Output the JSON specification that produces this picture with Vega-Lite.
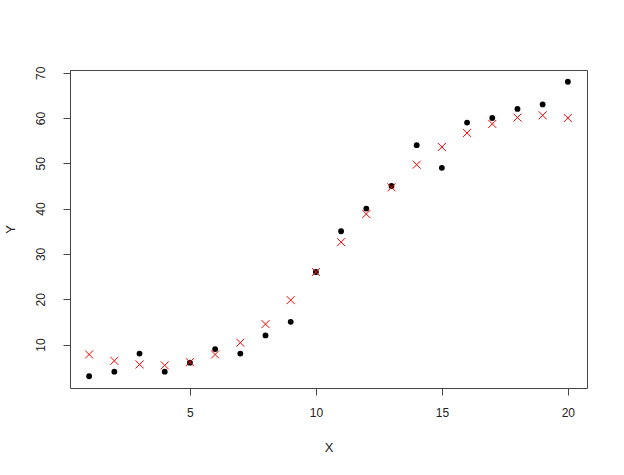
{
  "$schema": "https://vega.github.io/schema/vega-lite/v6.json",
  "autosize": "none",
  "width": 517,
  "height": 318,
  "padding": {"left": 70, "top": 70, "right": 37, "bottom": 87},
  "background": "white",
  "config": {
    "view": {"stroke": "#444", "strokeWidth": 1},
    "font": "Liberation Sans",
    "axis": {
      "grid": false,
      "domain": false,
      "tickColor": "#444",
      "tickSize": 7,
      "labelFont": "Liberation Sans",
      "labelFontSize": 12,
      "labelColor": "#222",
      "titleFont": "Liberation Sans",
      "titleFontSize": 13,
      "titleFontWeight": "normal",
      "titleColor": "#222"
    }
  },
  "data": {
    "values": [
      {"x": 1, "y": 3, "fit": 7.8},
      {"x": 2, "y": 4, "fit": 6.4},
      {"x": 3, "y": 8, "fit": 5.6},
      {"x": 4, "y": 4, "fit": 5.4},
      {"x": 5, "y": 6, "fit": 6.1},
      {"x": 6, "y": 9, "fit": 7.8},
      {"x": 7, "y": 8, "fit": 10.4},
      {"x": 8, "y": 12, "fit": 14.5},
      {"x": 9, "y": 15, "fit": 19.8},
      {"x": 10, "y": 26, "fit": 26.0},
      {"x": 11, "y": 35, "fit": 32.6},
      {"x": 12, "y": 40, "fit": 38.8},
      {"x": 13, "y": 45, "fit": 44.7},
      {"x": 14, "y": 54, "fit": 49.7},
      {"x": 15, "y": 49, "fit": 53.6},
      {"x": 16, "y": 59, "fit": 56.7},
      {"x": 17, "y": 60, "fit": 58.7},
      {"x": 18, "y": 62, "fit": 60.1},
      {"x": 19, "y": 63, "fit": 60.6},
      {"x": 20, "y": 68, "fit": 60.0}
    ]
  },
  "encoding": {
    "x": {
      "field": "x",
      "type": "quantitative",
      "title": "X",
      "scale": {"domain": [0.24, 20.76], "nice": false, "zero": false},
      "axis": {"values": [5, 10, 15, 20], "labelPadding": 12, "titlePadding": 23}
    }
  },
  "layer": [
    {
      "mark": {"type": "point", "shape": "circle", "filled": true, "color": "black", "size": 34, "opacity": 1},
      "encoding": {
        "y": {
          "field": "y",
          "type": "quantitative",
          "title": "Y",
          "scale": {"domain": [0.4, 70.6], "nice": false, "zero": false},
          "axis": {
            "values": [10, 20, 30, 40, 50, 60, 70],
            "labelAngle": 270,
            "labelAlign": "center",
            "labelBaseline": "bottom",
            "labelPadding": 16,
            "titlePadding": 17
          }
        }
      }
    },
    {
      "mark": {"type": "point", "shape": "M-1,-1L1,1M-1,1L1,-1", "filled": false, "color": "red", "strokeWidth": 1, "size": 64, "opacity": 1},
      "encoding": {
        "y": {"field": "fit", "type": "quantitative"}
      }
    }
  ]
}
